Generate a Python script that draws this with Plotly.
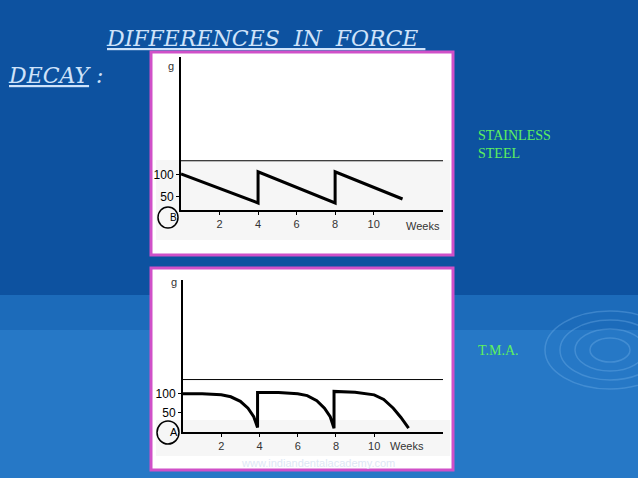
import plotly.graph_objects as go

# stainless steel: saw-tooth decay, reactivated every 4 weeks
ss_weeks = [0, 4, 4, 8, 8, 11.5]
ss_force = [102, 36, 107, 36, 107, 45]

# TMA: flat then sharp drop before each reactivation
tma_weeks = [0, 1, 2, 2.5, 3, 3.4, 3.7, 3.9, 3.9, 5, 6, 6.5, 7, 7.4, 7.7, 7.9, 7.9, 9, 10, 10.5, 11, 11.4, 11.8]
tma_force = [100, 100, 97, 92, 80, 62, 40, 12, 103, 103, 100, 95, 82, 62, 40, 10, 106, 104, 97, 85, 62, 38, 10]

x_ticks = [2, 4, 6, 8, 10]
ss_limit = 132
tma_limit = 137

W, H = 638, 478
def px(x): return x / W
def py(y): return 1 - y / H

fig = go.Figure()
fig.add_trace(go.Scatter(x=ss_weeks, y=ss_force, mode="lines", line=dict(color="black", width=3),
                         xaxis="x", yaxis="y", showlegend=False))
fig.add_trace(go.Scatter(x=[0, 13.6], y=[ss_limit, ss_limit], mode="lines", line=dict(color="black", width=1),
                         xaxis="x", yaxis="y", showlegend=False))
fig.add_trace(go.Scatter(x=tma_weeks, y=tma_force, mode="lines", line=dict(color="black", width=3),
                         xaxis="x2", yaxis="y2", showlegend=False))
fig.add_trace(go.Scatter(x=[0, 13.6], y=[tma_limit, tma_limit], mode="lines", line=dict(color="black", width=1),
                         xaxis="x2", yaxis="y2", showlegend=False))

axis_common = dict(showgrid=False, zeroline=False, showline=True, linecolor="black", linewidth=2,
                   ticks="outside", ticklen=3, tickcolor="black")
tick_small = dict(family="Liberation Sans", size=11, color="#333")
tick_y = dict(family="Liberation Sans", size=12, color="black")
fig.update_layout(
    width=W, height=H, margin=dict(l=0, r=0, t=0, b=0),
    paper_bgcolor="#0d52a0", plot_bgcolor="rgba(0,0,0,0)",
    xaxis=dict(domain=[px(181), px(443)], range=[0, 13.6], anchor="y", tickvals=x_ticks,
               tickfont=tick_small, **axis_common),
    yaxis=dict(domain=[py(210), py(57)], range=[20, 368], anchor="x", tickvals=[50, 100],
               tickfont=tick_y, **axis_common),
    xaxis2=dict(domain=[px(183), px(443)], range=[0, 13.6], anchor="y2", tickvals=x_ticks,
                tickfont=tick_small, **axis_common),
    yaxis2=dict(domain=[py(432), py(280)], range=[0, 397], anchor="x2", tickvals=[50, 100],
                tickfont=tick_y, **axis_common),
)

shapes = [
    dict(type="rect", xref="paper", yref="paper", x0=0, x1=1, y0=0, y1=py(295),
         fillcolor="#2678c6", line_width=0, layer="below"),
    dict(type="rect", xref="paper", yref="paper", x0=0, x1=1, y0=py(295), y1=py(330),
         fillcolor="#1c6bba", line_width=0, layer="below"),
    dict(type="rect", xref="paper", yref="paper", x0=px(151), x1=px(453), y0=py(255), y1=py(52),
         fillcolor="white", line=dict(color="#d050c8", width=3), layer="below"),
    dict(type="rect", xref="paper", yref="paper", x0=px(151), x1=px(453), y0=py(470), y1=py(268),
         fillcolor="white", line=dict(color="#d050c8", width=3), layer="below"),
    dict(type="rect", xref="paper", yref="paper", x0=px(156), x1=px(450), y0=py(240), y1=py(160),
         fillcolor="#f6f6f6", line_width=0, layer="below"),
    dict(type="rect", xref="paper", yref="paper", x0=px(156), x1=px(450), y0=py(456), y1=py(420),
         fillcolor="#f6f6f6", line_width=0, layer="below"),
    dict(type="circle", xref="paper", yref="paper", x0=px(158), x1=px(178), y0=py(228), y1=py(207),
         line=dict(color="black", width=1.5)),
    dict(type="circle", xref="paper", yref="paper", x0=px(157), x1=px(179), y0=py(444), y1=py(421),
         line=dict(color="black", width=1.5)),
]
for r in (20, 35, 50, 65):
    shapes.append(dict(type="circle", xref="paper", yref="paper", x0=px(610 - r), x1=px(610 + r),
                       y0=py(350 + r * 0.6), y1=py(350 - r * 0.6),
                       line=dict(color="rgba(120,180,235,0.35)", width=1.5), layer="below"))
fig.update_layout(shapes=shapes)

title_font = dict(family="DejaVu Serif", size=22, color="#cfe3fa")
ann = [
    dict(x=px(104), y=py(38), text="<i><u>DIFFERENCES  IN  FORCE </u></i>", font=title_font,
         xanchor="left"),
    dict(x=px(6), y=py(76), text="<i><u>DECAY</u> :</i>", font=title_font, xanchor="left"),
    dict(x=px(476), y=py(144), text="STAINLESS<br>STEEL", align="left",
         font=dict(family="Liberation Serif", size=14, color="#5ef05e"), xanchor="left"),
    dict(x=px(476), y=py(350), text="T.M.A.",
         font=dict(family="Liberation Serif", size=14, color="#5ef05e"), xanchor="left"),
    dict(x=px(166), y=py(66), text="g", font=tick_small),
    dict(x=px(169), y=py(282), text="g", font=tick_small),
    dict(x=px(423), y=py(226), text="Weeks", font=tick_small),
    dict(x=px(426), y=py(446), text="Weeks", font=tick_small),
    dict(x=px(168), y=py(217), text="B", font=dict(family="Liberation Sans", size=10, color="black")),
    dict(x=px(168), y=py(432), text="A", font=dict(family="Liberation Sans", size=11, color="black")),
    dict(x=px(318), y=py(463), text="www.indiandentalacademy.com",
         font=dict(family="Liberation Sans", size=11, color="#dde8f5")),
]
for a in ann:
    a.update(xref="paper", yref="paper", showarrow=False, yanchor="middle")
fig.update_layout(annotations=ann)

fig.write_html("out.html", config={"displayModeBar": False},
               post_script="document.body.style.margin='0';")
